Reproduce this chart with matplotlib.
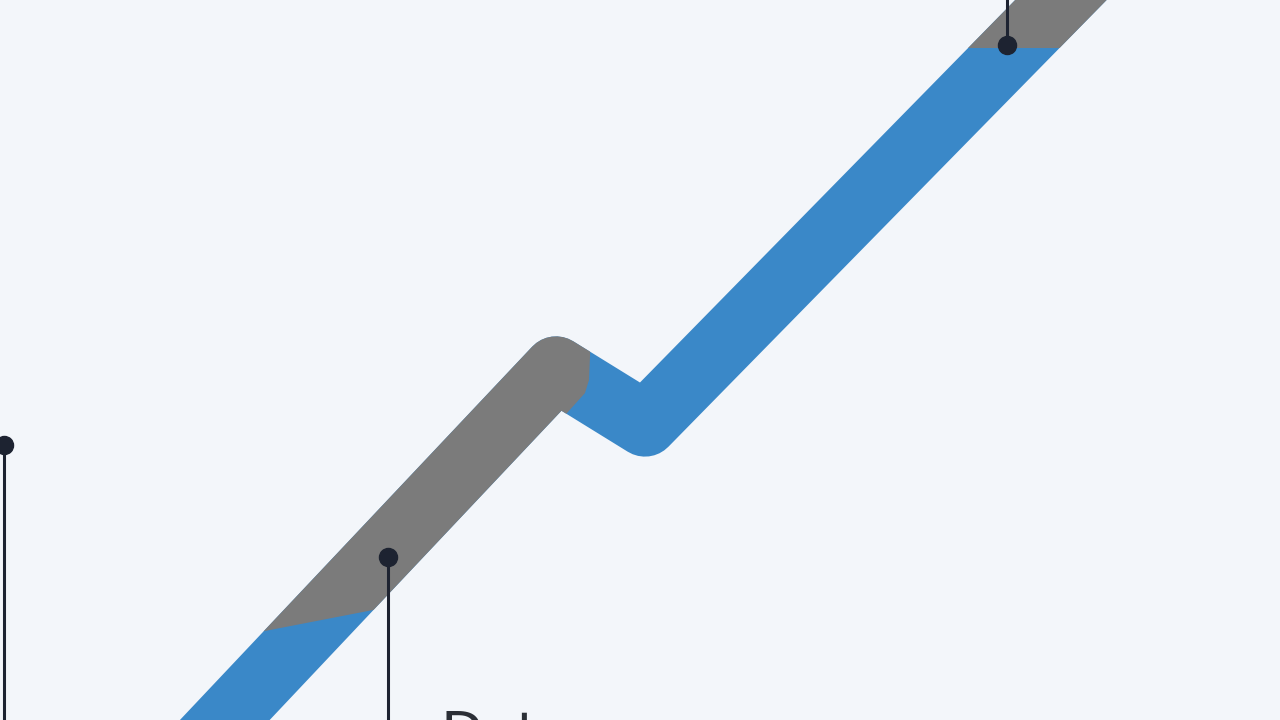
import matplotlib.pyplot as plt
from matplotlib.patches import Polygon

# path of the trend line (data units)
x = [1.21, 5.56, 6.45, 11.59]
y = [-1.1, 3.51, 2.96, 8.2]

# grey stretches of the line: index range into x / y and the area they fill
grey_spans = [(0, 2), (2, 3)]
grey_areas = [
    # above the slanted cut near the bottom, left of the curved edge after the peak
    [(-1, 0.182), (5.2, 1.385), (5.2, 2.5), (5.67, 3.07), (5.85, 3.27),
     (5.89, 3.40), (5.90, 3.63), (5.95, 5.0), (-1, 5.0)],
    # above the level cut at the top
    [(-1, 6.72), (14, 6.72), (14, 9), (-1, 9)],
]

# annotation pins: (x, y, direction of stem)
pin_x = [3.88, 10.07, 0.04]
pin_y = [1.63, 6.75, 2.75]
pin_dir = ['down', 'up', 'down']

label_text = "Data"

blue = '#3a88c8'
grey = '#7b7b7b'
pin_col = '#1d2331'
bg = '#f3f6fa'
lw = 47

fig = plt.figure(figsize=(12.8, 7.2), dpi=100, facecolor=bg)
ax = fig.add_axes([0, 0, 1, 1])
ax.set_facecolor(bg)
ax.set_xlim(0, 12.8)
ax.set_ylim(0, 7.2)
ax.axis('off')

ax.plot(x, y, color=blue, lw=lw, solid_joinstyle='round', solid_capstyle='projecting', zorder=2)

for (a, b), area in zip(grey_spans, grey_areas):
    line, = ax.plot(x[a:b + 1], y[a:b + 1], color=grey, lw=lw,
                    solid_joinstyle='round', solid_capstyle='projecting', zorder=3)
    clip = Polygon(area, closed=True, transform=ax.transData, visible=False)
    ax.add_patch(clip)
    line.set_clip_path(clip)

for px, py, d in zip(pin_x, pin_y, pin_dir):
    end = -1 if d == 'down' else 9
    ax.plot([px, px], [py, end], color=pin_col, lw=2.2, zorder=4)
    ax.plot(px, py, 'o', color=pin_col, ms=13, zorder=5)

ax.text(4.4, 0.11, label_text, fontsize=40, color='#2b2f36', va='top', ha='left',
        family='DejaVu Sans')

fig.savefig('out.png', dpi=100, facecolor=bg)
